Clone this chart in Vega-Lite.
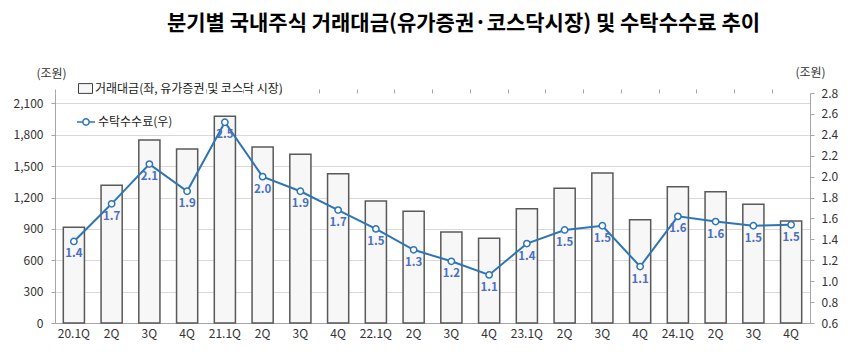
{
  "$schema": "https://vega.github.io/schema/vega-lite/v6.json",
  "width": 755,
  "height": 230,
  "autosize": {"type": "none"},
  "padding": {"left": 55, "top": 93, "right": 39, "bottom": 35},
  "background": "white",
  "config": {"view": {"stroke": null}, "font": "Noto Sans CJK KR"},
  "title": {
    "text": "분기별 국내주식 거래대금(유가증권·코스닥시장) 및 수탁수수료 추이",
    "fontSize": 21,
    "fontWeight": "bold",
    "color": "#000000",
    "anchor": "middle",
    "frame": "group",
    "dx": 31,
    "offset": 32,
    "font": "Noto Sans CJK KR"
  },
  "data": {
    "values": [
      {"quarter": "20.1Q", "volume": 915, "fee": 1.38},
      {"quarter": "20.2Q", "volume": 1317, "fee": 1.74},
      {"quarter": "20.3Q", "volume": 1750, "fee": 2.12},
      {"quarter": "20.4Q", "volume": 1664, "fee": 1.86},
      {"quarter": "21.1Q", "volume": 1977, "fee": 2.52},
      {"quarter": "21.2Q", "volume": 1683, "fee": 2.0},
      {"quarter": "21.3Q", "volume": 1614, "fee": 1.86},
      {"quarter": "21.4Q", "volume": 1428, "fee": 1.68},
      {"quarter": "22.1Q", "volume": 1167, "fee": 1.5},
      {"quarter": "22.2Q", "volume": 1068, "fee": 1.3},
      {"quarter": "22.3Q", "volume": 870, "fee": 1.19},
      {"quarter": "22.4Q", "volume": 810, "fee": 1.06},
      {"quarter": "23.1Q", "volume": 1093, "fee": 1.36},
      {"quarter": "23.2Q", "volume": 1288, "fee": 1.49},
      {"quarter": "23.3Q", "volume": 1435, "fee": 1.53},
      {"quarter": "23.4Q", "volume": 988, "fee": 1.14},
      {"quarter": "24.1Q", "volume": 1304, "fee": 1.62},
      {"quarter": "24.2Q", "volume": 1256, "fee": 1.57},
      {"quarter": "24.3Q", "volume": 1135, "fee": 1.53},
      {"quarter": "24.4Q", "volume": 976, "fee": 1.54}
    ]
  },
  "layer": [
    {
      "mark": {"type": "bar", "width": {"band": 0.56}, "stroke": "#595959", "strokeWidth": 1.5},
      "encoding": {
        "x": {
          "field": "quarter",
          "type": "nominal",
          "sort": null,
          "scale": {"paddingInner": 0, "paddingOuter": 0},
          "axis": {
            "title": null,
            "labelAngle": 0,
            "ticks": false,
            "domain": true,
            "domainColor": "#a6a6a6",
            "labelExpr": "indexof(datum.value, '.1Q') >= 0 ? datum.value : substring(datum.value, 3)",
            "labelFontSize": 12,
            "labelColor": "#333333",
            "labelPadding": 5,
            "grid": false
          }
        },
        "y": {
          "field": "volume",
          "type": "quantitative",
          "scale": {"domain": [0, 2200], "nice": false},
          "axis": {
            "title": "(조원)",
            "titleAngle": 0,
            "titleX": -4,
            "titleY": -20,
            "titleAlign": "center",
            "titleBaseline": "middle",
            "titleFontSize": 12,
            "titleFontWeight": "normal",
            "titleColor": "#333333",
            "values": [0, 300, 600, 900, 1200, 1500, 1800, 2100],
            "format": ",d",
            "labelFontSize": 12,
            "labelColor": "#333333",
            "tickSize": 4,
            "tickColor": "#a6a6a6",
            "domainColor": "#a6a6a6",
            "labelPadding": 8,
            "grid": true,
            "gridColor": "#d9d9d9"
          }
        },
        "fill": {
          "datum": "거래대금(좌, 유가증권 및 코스닥 시장)",
          "type": "nominal",
          "scale": {"range": ["#f7f7f7"]},
          "legend": {
            "orient": "none",
            "legendX": 23,
            "legendY": -12,
            "title": null,
            "symbolType": "M-1,-0.7H1V0.7H-1Z",
            "symbolSize": 196,
            "symbolStrokeColor": "#404040",
            "symbolStrokeWidth": 1,
            "labelFontSize": 12,
            "labelColor": "#222222",
            "labelOffset": 2,
            "labelLimit": 0,
            "padding": 0
          }
        }
      }
    },
    {
      "encoding": {
        "x": {
          "field": "quarter",
          "type": "nominal",
          "sort": null,
          "axis": {
            "title": null,
            "labels": false,
            "domain": false,
            "ticks": true,
            "tickSize": 4,
            "bandPosition": 0,
            "tickColor": "#a6a6a6",
            "grid": false
          }
        },
        "y": {
          "field": "fee",
          "type": "quantitative",
          "scale": {"domain": [0.6, 2.8], "nice": false},
          "axis": {
            "orient": "right",
            "title": "(조원)",
            "titleAngle": 0,
            "titleX": 0,
            "titleY": -21,
            "titleAlign": "center",
            "titleBaseline": "middle",
            "titleFontSize": 12,
            "titleFontWeight": "normal",
            "titleColor": "#333333",
            "values": [0.6, 0.8, 1.0, 1.2, 1.4, 1.6, 1.8, 2.0, 2.2, 2.4, 2.6, 2.8],
            "format": ".1f",
            "labelFontSize": 12,
            "labelColor": "#333333",
            "tickSize": 4,
            "tickColor": "#a6a6a6",
            "domainColor": "#a6a6a6",
            "labelPadding": 7,
            "grid": false
          }
        }
      },
      "layer": [
        {
          "mark": {"type": "line", "strokeWidth": 2},
          "encoding": {
            "stroke": {
              "datum": "수탁수수료(우)",
              "type": "nominal",
              "scale": {"range": ["#2e75b6"]},
              "legend": {
                "orient": "none",
                "legendX": 21,
                "legendY": 19,
                "title": null,
                "symbolType": "M-1,0H-0.35M0.35,0H1M0.35,0A0.35,0.35,0,1,1,-0.35,0A0.35,0.35,0,1,1,0.35,0",
                "symbolSize": 324,
                "symbolStrokeWidth": 1.5,
                "symbolFillColor": "white",
                "labelFontSize": 12,
                "labelColor": "#222222",
                "labelOffset": 2,
                "labelLimit": 0,
                "padding": 0
              }
            }
          }
        },
        {
          "mark": {"type": "point", "shape": "circle", "filled": true, "fill": "white", "stroke": "#2e75b6", "strokeWidth": 1.5, "size": 40, "opacity": 1},
          "encoding": {}
        },
        {
          "mark": {"type": "text", "dy": 13, "color": "#4a6fc1", "fontWeight": "bold", "fontSize": 11.5, "baseline": "middle"},
          "encoding": {"text": {"field": "fee", "type": "quantitative", "format": ".1f"}}
        }
      ]
    }
  ],
  "resolve": {"scale": {"y": "independent"}, "axis": {"x": "independent"}}
}
